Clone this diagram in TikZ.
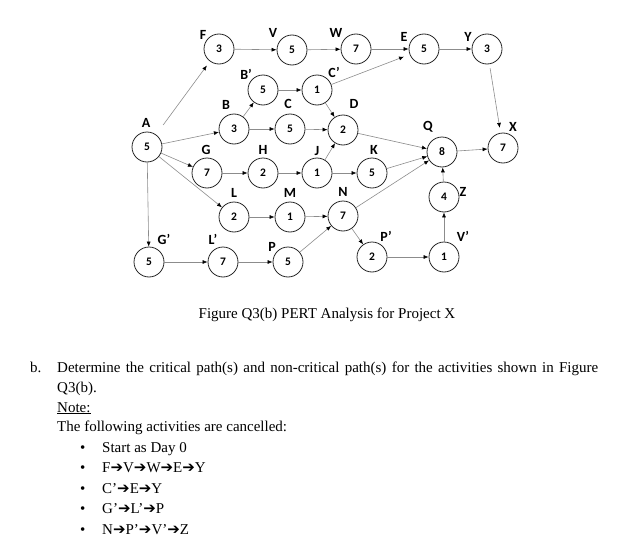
\documentclass[tikz,border=0pt]{standalone}
\usepackage{fontspec}
\setmainfont{Liberation Serif}
\newfontfamily\calib{Carlito}
\newfontfamily\arrowfont{DejaVu Sans}
\usetikzlibrary{arrows.meta}

\newcommand{\thenarrow}{{\arrowfont\fontsize{15}{15}\selectfont ➔}}

\begin{document}
\begin{tikzpicture}[x=1pt,y=-1pt]
    \tikzset{
        act/.style={draw=black!85,line width=0.8pt,circle,minimum size=30pt,
            inner sep=0pt,font=\calib\bfseries\fontsize{11.5}{13}\selectfont},
        tag/.style={inner sep=0pt,font=\calib\bfseries\fontsize{14}{16}\selectfont},
        link/.style={draw=black!45,line width=0.6pt,
            -{Latex[length=5pt,width=4pt,color=black]}},
        txt/.style={anchor=base west,inner sep=0pt,
            font=\fontsize{15}{17}\selectfont}
    }
    \useasboundingbox (0,0) rectangle (627,538);

    % activities
    \node[act] (F)  at (219,49)  {3};
    \node[act] (V)  at (292,50)  {5};
    \node[act] (W)  at (356,49)  {7};
    \node[act] (E)  at (424,49)  {5};
    \node[act] (Y)  at (487,49)  {3};
    \node[act] (Bp) at (263,90)  {5};
    \node[act] (Cp) at (317,90)  {1};
    \node[act] (B)  at (234,129) {3};
    \node[act] (C)  at (290,129) {5};
    \node[act] (D)  at (343,130) {2};
    \node[act] (A)  at (147,147) {5};
    \node[act] (Q)  at (442,152) {8};
    \node[act] (X)  at (503,148) {7};
    \node[act] (G)  at (207,173) {7};
    \node[act] (H)  at (263,173) {2};
    \node[act] (J)  at (317,173) {1};
    \node[act] (K)  at (372,173) {5};
    \node[act] (Z)  at (444,197) {4};
    \node[act] (L)  at (234,217) {2};
    \node[act] (M)  at (290,217) {1};
    \node[act] (N)  at (343,216) {7};
    \node[act] (Gp) at (149,262) {5};
    \node[act] (Lp) at (223,262) {7};
    \node[act] (P)  at (288,262) {5};
    \node[act] (Pp) at (372,257) {2};
    \node[act] (Vp) at (444,257) {1};

    % activity letters
    \node[tag] (tF)  at (203,35)  {F};
    \node[tag] (tV)  at (273,33)  {V};
    \node[tag] (tW)  at (336,33)  {W};
    \node[tag] (tE)  at (404,37)  {E};
    \node[tag] (tY)  at (468,37)  {Y};
    \node[tag] (tBp) at (246,74)  {B’};
    \node[tag] (tCp) at (334,72)  {C’};
    \node[tag] (tB)  at (226,105) {B};
    \node[tag] (tC)  at (288,104) {C};
    \node[tag] (tD)  at (354,104) {D};
    \node[tag] (tA)  at (146,123) {A};
    \node[tag] (tQ)  at (428,127) {Q};
    \node[tag] (tX)  at (513,127) {X};
    \node[tag] (tG)  at (206,150) {G};
    \node[tag] (tH)  at (263,150) {H};
    \node[tag] (tJ)  at (317,151) {J};
    \node[tag] (tK)  at (374,150) {K};
    \node[tag] (tZ)  at (463,192) {Z};
    \node[tag] (tL)  at (234,193) {L};
    \node[tag] (tM)  at (290,193) {M};
    \node[tag] (tN)  at (343,192) {N};
    \node[tag] (tGp) at (164,239) {G’};
    \node[tag] (tLp) at (213,239) {L’};
    \node[tag] (tP)  at (272,247) {P};
    \node[tag] (tPp) at (386,236) {P’};
    \node[tag] (tVp) at (463,236) {V’};

    % precedence
    \draw[link,shorten <=12pt,shorten >=5pt] (A) -- (F);
    \draw[link] (A) -- (B);
    \draw[link] (A) -- (G);
    \draw[link] (A) -- (L);
    \draw[link] (A) -- (Gp);
    \draw[link] (F) -- (V);
    \draw[link] (V) -- (W);
    \draw[link] (W) -- (E);
    \draw[link] (E) -- (Y);
    \draw[link,shorten <=4pt,shorten >=5pt] (Y) -- (X);
    \draw[link] (B) -- (Bp);
    \draw[link] (B) -- (C);
    \draw[link] (Bp) -- (Cp);
    \draw[link,shorten >=6pt] (Cp) -- (E);
    \draw[link] (Cp) -- (D);
    \draw[link] (C) -- (D);
    \draw[link] (D) -- (Q);
    \draw[link] (G) -- (H);
    \draw[link] (H) -- (J);
    \draw[link] (J) -- (D);
    \draw[link] (J) -- (K);
    \draw[link] (K) -- (Q);
    \draw[link] (L) -- (M);
    \draw[link] (M) -- (N);
    \draw[link] (N) -- (Q);
    \draw[link] (N) -- (Pp);
    \draw[link] (Gp) -- (Lp);
    \draw[link] (Lp) -- (P);
    \draw[link] (P) -- (N);
    \draw[link] (Pp) -- (Vp);
    \draw[link] (Vp) -- (Z);
    \draw[link] (Z) -- (Q);
    \draw[link] (Q) -- (X);

    % caption and question
    \node[anchor=base,inner sep=0pt,font=\fontsize{15}{17}\selectfont]
        (caption) at (327,318) {Figure Q3(b) PERT Analysis for Project X};
    \node[txt] (qb) at (30,372) {b.};
    \node[txt] (q1) at (57,372)
        {\makebox[541pt][s]{Determine the critical path(s) and non-critical path(s) for the activities shown in Figure}};
    \node[txt] (q2) at (57,392) {Q3(b).};
    \node[txt] (note) at (57,412) {\underline{Note:}};
    \node[txt] (intro) at (57,431) {The following activities are cancelled:};
    \foreach \yy/\item [count=\i] in {452/{Start as Day 0},
            472/{F\thenarrow V\thenarrow W\thenarrow E\thenarrow Y},
            493/{C’\thenarrow E\thenarrow Y},
            513/{G’\thenarrow L’\thenarrow P},
            534/{N\thenarrow P’\thenarrow V’\thenarrow Z}} {
        \node[txt] (dot\i) at (80,\yy) {•};
        \node[txt] (item\i) at (102,\yy) {\item};
    }
\end{tikzpicture}
\end{document}
